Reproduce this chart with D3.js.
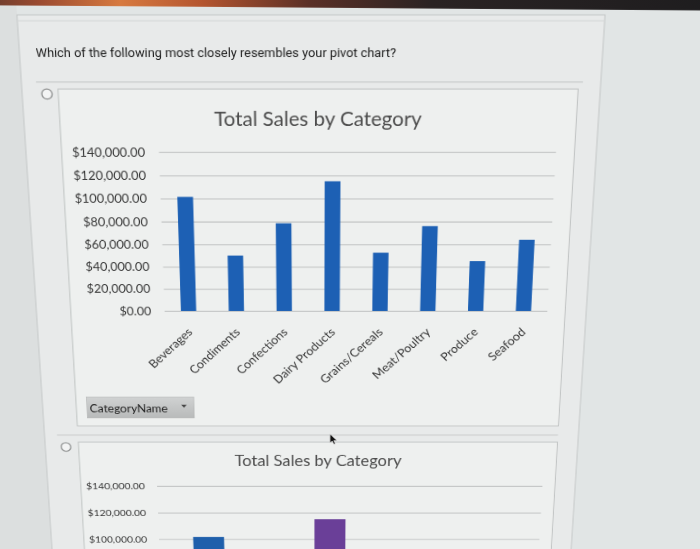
<!DOCTYPE html>
<html lang="en">
<head>
<meta charset="UTF-8">
<title>Total Sales by Category</title>
<script src="https://cdn.jsdelivr.net/npm/d3@7/dist/d3.min.js"></script>
<style>
    html, body {
        margin: 0;
        padding: 0;
        width: 700px;
        height: 549px;
        overflow: hidden;
        background: #e1e5e5;
    }

    /* the reference is a phone photo of a screen: the page leans back a little */
    #photo {
        position: absolute;
        left: -60px;
        top: 0;
        transform-origin: 376px 0;
        transform: perspective(400px) rotateX(-5deg);
    }
</style>
</head>
<body>
<svg id="photo" width="820" height="660"></svg>
<script>
    var categories = ["Beverages", "Condiments", "Confections", "Dairy Products",
        "Grains/Cereals", "Meat/Poultry", "Produce", "Seafood"];
    var sales = [101500, 50000, 78500, 115000, 52500, 76000, 45000, 64000];
    var yTicks = [0, 20000, 40000, 60000, 80000, 100000, 120000, 140000];
    var pointColors = ["#1f5fab", "#c0504d", "#9bbb59", "#6a3f98",
        "#4bacc6", "#f79646", "#2c4d75", "#772c2a"];

    var CX = 316, TILT = 5 * Math.PI / 180, PERSP = 400;
    var K = Math.sin(TILT) / PERSP, C = Math.cos(TILT);
    function ty(yo) { return yo / (C - K * yo); }
    function tx(xo, yo) { return CX + (xo - CX) * (1 + K * ty(yo)); }

    var money = d3.format("$,.2f");
    var chartFont = "Lato, 'Open Sans', sans-serif";

    var svg = d3.select("#photo");
    var defs = svg.append("defs");
    var g = svg.append("g").attr("transform", "translate(60,0)");

    // ---- page / screen background
    g.append("rect").attr("x", -60).attr("y", 0).attr("width", 820).attr("height", 660)
        .attr("fill", "#e1e5e5");
    g.append("rect").attr("x", -60).attr("y", 0).attr("width", 76).attr("height", 660)
        .attr("fill", "#dcdfdf");
    g.append("rect").attr("x", 16).attr("y", 15).attr("width", 590).attr("height", 660)
        .attr("fill", "#e8eaea").attr("stroke", "#c4c7c7");
    g.append("line").attr("x1", 16).attr("x2", 606).attr("y1", 21).attr("y2", 21)
        .attr("stroke", "#d3d6d6");

    var bezel = defs.append("linearGradient").attr("id", "bezel");
    [["0%", "#3b2e2a"], ["12%", "#9a4a30"], ["22%", "#d77a40"], ["32%", "#b4552f"],
        ["45%", "#5a2f26"], ["60%", "#2a2323"], ["100%", "#1c1c1e"]].forEach(function (s) {
        bezel.append("stop").attr("offset", s[0]).attr("stop-color", s[1]);
    });
    g.append("path").attr("d", "M-60,0 L760,0 L760,11 L-60,5 Z").attr("fill", "url(#bezel)");

    g.append("text")
        .attr("x", tx(36, 57)).attr("y", ty(57))
        .style("font-family", "Roboto, sans-serif").style("font-size", "12.9px")
        .style("fill", "#1c1c1c")
        .text("Which of the following most closely resembles your pivot chart?");

    function separator(yo, x0, x1) {
        g.append("line")
            .attr("x1", tx(x0, yo)).attr("x2", tx(x1, yo))
            .attr("y1", ty(yo)).attr("y2", ty(yo))
            .attr("stroke", "#c9cccc").attr("stroke-width", 1.2);
    }

    function radio(xo, yo) {
        g.append("circle").attr("cx", tx(xo, yo)).attr("cy", ty(yo)).attr("r", 5.3)
            .attr("fill", "#f3f4f4").attr("stroke", "#8d8f8f").attr("stroke-width", 1.3);
    }

    var boxLeft = tx(58, 89), boxRight = tx(578, 92);

    separator(82, 36, 583);
    radio(47, 94);

    // ---- chart 1
    g.append("rect")
        .attr("x", boxLeft).attr("y", ty(89))
        .attr("width", boxRight - boxLeft).attr("height", ty(426) - ty(89))
        .attr("fill", "#eef0ef").attr("stroke", "#bec1c1");

    g.append("text")
        .attr("x", tx(318, 125)).attr("y", ty(125.5))
        .attr("text-anchor", "middle")
        .style("font-family", chartFont).style("font-size", "21px").style("fill", "#4c4c4c")
        .text("Total Sales by Category");

    var y1 = d3.scaleLinear().domain([0, 140000]).range([ty(311), ty(152)]);
    var x1 = d3.scaleBand().domain(categories)
        .range([tx(159, 152), tx(556, 152)])
        .paddingInner(0.68).paddingOuter(0.34);
    var grid1 = x1.range();

    var ax1 = g.append("g").attr("transform", "translate(" + grid1[0] + ",0)")
        .call(d3.axisLeft(y1).tickValues(yTicks).tickFormat(money)
            .tickSize(-(grid1[1] - grid1[0])).tickPadding(grid1[0] - tx(145, 152)));
    ax1.select(".domain").remove();
    ax1.selectAll(".tick line").attr("stroke", "#c6c8c8").attr("stroke-width", 1.3);
    ax1.selectAll(".tick text")
        .style("font-family", chartFont).style("font-size", "13.3px").style("fill", "#363636");

    g.append("g").selectAll("rect").data(sales).enter().append("rect")
        .attr("x", function (d, i) { return x1(categories[i]); })
        .attr("y", function (d) { return y1(d); })
        .attr("width", x1.bandwidth())
        .attr("height", function (d) { return y1(0) - y1(d); })
        .attr("fill", "#1d60b4");

    g.append("g").selectAll("text").data(categories).enter().append("text")
        .attr("transform", function (d) {
            return "translate(" + (x1(d) + x1.bandwidth() / 2 + 1) + "," + (y1(0) + 22) + ") rotate(-44)";
        })
        .attr("text-anchor", "end").attr("dy", "0.35em")
        .style("font-family", chartFont).style("font-size", "13.5px").style("fill", "#363636")
        .text(function (d) { return d; });

    // field button of the pivot chart
    var btn = defs.append("linearGradient").attr("id", "btn").attr("x2", 0).attr("y2", 1);
    btn.append("stop").attr("offset", "0%").attr("stop-color", "#d0d2d2");
    btn.append("stop").attr("offset", "100%").attr("stop-color", "#b8baba");
    var bx0 = tx(87, 407), bx1 = tx(194, 407);
    g.append("rect")
        .attr("x", bx0).attr("y", ty(397)).attr("width", bx1 - bx0).attr("height", ty(418) - ty(397))
        .attr("fill", "url(#btn)").attr("stroke", "#b0b2b2").attr("stroke-width", 0.6);
    g.append("text")
        .attr("x", tx(90, 412)).attr("y", ty(412.5))
        .style("font-family", chartFont).style("font-size", "13px").style("fill", "#222")
        .text("CategoryName");
    var ax = tx(184, 407), ay = ty(406);
    g.append("path")
        .attr("d", "M" + (ax - 3) + "," + (ay - 1.5) + " L" + (ax + 3) + "," + (ay - 1.5) + " L" + ax + "," + (ay + 2) + " Z")
        .attr("fill", "#444");

    separator(435, 57, 558);
    radio(66, 447);

    // ---- chart 2 (varied colours by point)
    g.append("rect")
        .attr("x", boxLeft).attr("y", ty(442))
        .attr("width", boxRight - boxLeft).attr("height", 300)
        .attr("fill", "#eef0ef").attr("stroke", "#bec1c1");

    g.append("text")
        .attr("x", tx(318, 466)).attr("y", ty(466))
        .attr("text-anchor", "middle")
        .style("font-family", chartFont).style("font-size", "18.3px").style("fill", "#4c4c4c")
        .text("Total Sales by Category");

    var y2top = ty(486), y2step = (ty(539) - ty(486)) / 2;
    var y2 = d3.scaleLinear().domain([0, 140000]).range([y2top + 7 * y2step, y2top]);
    var x2 = d3.scaleBand().domain(categories)
        .range([tx(158, 512), tx(541, 512)])
        .paddingInner(0.236).paddingOuter(0.823);
    var grid2 = x2.range();

    var ax2 = g.append("g").attr("transform", "translate(" + grid2[0] + ",0)")
        .call(d3.axisLeft(y2).tickValues(yTicks).tickFormat(money)
            .tickSize(-(grid2[1] - grid2[0])).tickPadding(grid2[0] - tx(146, 512)));
    ax2.select(".domain").remove();
    ax2.selectAll(".tick line").attr("stroke", "#c6c8c8").attr("stroke-width", 1.3);
    ax2.selectAll(".tick text")
        .style("font-family", chartFont).style("font-size", "11.6px").style("fill", "#363636");

    g.append("g").selectAll("rect").data(sales).enter().append("rect")
        .attr("x", function (d, i) { return x2(categories[i]) + 1; })
        .attr("y", function (d) { return y2(d); })
        .attr("width", x2.bandwidth())
        .attr("height", function (d) { return y2(0) - y2(d); })
        .attr("fill", function (d, i) { return pointColors[i]; });

    // mouse pointer caught in the photo
    var cx0 = tx(330, 434), cy0 = ty(434);
    g.append("path")
        .attr("transform", "translate(" + cx0 + "," + cy0 + ")")
        .attr("d", "M0,0 L0,11 L2.6,8.6 L4.4,12.6 L6,11.9 L4.3,8.1 L7.7,8.1 Z")
        .attr("fill", "#111").attr("stroke", "#f0f0f0").attr("stroke-width", 0.6);
</script>
</body>
</html>
